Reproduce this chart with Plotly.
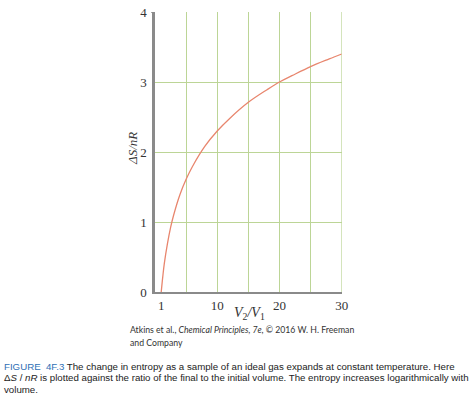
import plotly.graph_objects as go

# Data (ΔS/nR vs V2/V1)
ratio = [1, 1.25, 1.5, 2, 2.5, 3, 4, 5, 6, 8, 10, 12, 15, 18, 20, 22, 25, 28, 30]
dS_nR = [0.0, 0.22, 0.41, 0.69, 0.92, 1.10, 1.39, 1.61, 1.79, 2.08, 2.30, 2.48, 2.71, 2.89, 3.00, 3.09, 3.22, 3.33, 3.40]
x_ticks = [1, 10, 20, 30]
y_ticks = [0, 1, 2, 3, 4]

credit_lines = ["Atkins et al., <i>Chemical Principles, 7e</i>, © 2016 W. H. Freeman", "and Company"]
caption_lines = [
    "<span style='color:#2f6fb5'>FIGURE  4F.3</span> The change in entropy as a sample of an ideal gas expands at constant temperature. Here",
    "Δ<i>S</i> / <i>nR</i> is plotted against the ratio of the final to the initial volume. The entropy increases logarithmically with",
    "volume.",
]

W, H = 474, 397
GRID = "#bcd596"
AXIS = "#8a8a8a"
SERIF = "Liberation Serif"
SANS = "Liberation Sans"

fig = go.Figure()
fig.add_trace(go.Scatter(x=ratio, y=dS_nR, mode="lines",
                         line=dict(color="#e8866e", width=1.3, shape="spline"),
                         hoverinfo="skip", showlegend=False))

fig.update_layout(
    width=W, height=H,
    margin=dict(l=0, r=0, t=0, b=0, autoexpand=False),
    paper_bgcolor="white", plot_bgcolor="white",
    xaxis=dict(domain=[155 / W, 341.7 / W], range=[0, 30], automargin=False,
               tickvals=x_ticks, showgrid=False, zeroline=False,
               showline=True, linecolor=AXIS, linewidth=1.5,
               ticks="", ticklabelstandoff=1,
               tickfont=dict(family=SERIF, size=13, color="#333"),
               minor=dict(dtick=5, tick0=0, showgrid=True, gridcolor=GRID, gridwidth=1.2)),
    yaxis=dict(domain=[1 - 292 / H, 1 - 12 / H], range=[0, 4], automargin=False,
               tickvals=y_ticks, showgrid=True, gridcolor=GRID, gridwidth=1.2,
               zeroline=False, showline=True, linecolor=AXIS, linewidth=2.5,
               ticks="", ticklabelstandoff=3,
               tickfont=dict(family=SERIF, size=13, color="#333")),
)

# right border gridline at x=30
fig.add_shape(type="line", xref="x", yref="y", x0=30, x1=30, y0=0, y1=4,
              line=dict(color=GRID, width=1.2), layer="below")
# small tick at the top of the y axis
fig.add_shape(type="line", xref="paper", yref="y", x0=151 / W, x1=155 / W, y0=4, y1=4,
              line=dict(color=AXIS, width=1.5))

fig.add_annotation(text="<i>ΔS/nR</i>", xref="paper", yref="paper",
                   x=132 / W, y=1 - 149 / H, xanchor="center", yanchor="middle",
                   textangle=-90, showarrow=False,
                   font=dict(family=SERIF, size=13, color="#333"))
fig.add_annotation(text="<i>V</i><sub>2</sub><i>/V</i><sub>1</sub>", xref="paper", yref="paper",
                   x=249 / W, y=1 - 313 / H, xanchor="center", yanchor="middle", showarrow=False,
                   font=dict(family=SERIF, size=14, color="#333"))

for line, yc in zip(credit_lines, [329, 342]):
    fig.add_annotation(text=line, xref="paper", yref="paper", x=128 / W, y=1 - yc / H,
                       xanchor="left", yanchor="middle", showarrow=False,
                       font=dict(family="Lato", size=8.7, color="#333"))

for line, yc in zip(caption_lines, [366, 377.5, 389]):
    fig.add_annotation(text=line, xref="paper", yref="paper", x=2 / W, y=1 - yc / H,
                       xanchor="left", yanchor="middle", showarrow=False,
                       font=dict(family=SANS, size=9.7, color="#222"))

fig.write_html("out.html")
